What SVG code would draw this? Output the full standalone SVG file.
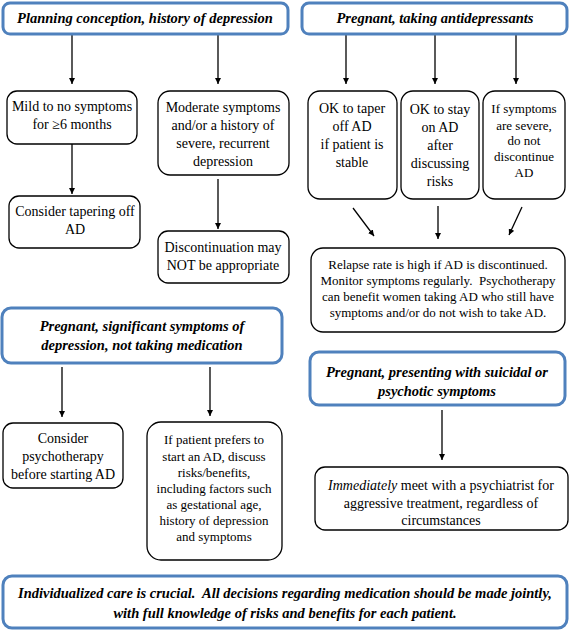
<svg xmlns="http://www.w3.org/2000/svg" width="570" height="632" viewBox="0 0 570 632">
<style>
.hdr{fill:#fff;stroke:#4f81bd;stroke-width:3}
.box{fill:#fff;stroke:#000;stroke-width:1.3}
text{font-family:'Liberation Serif','Times New Roman','DejaVu Serif',serif;text-anchor:middle;fill:#000}
.ht{font-weight:bold;font-style:italic;font-size:14.5px}
.t{font-size:14px}
.s{font-size:13px}
.c line{stroke:#000;stroke-width:1.3;marker-end:url(#ah)}
</style>
<defs>
<marker id="ah" viewBox="0 0 10 10" refX="10" refY="5" markerWidth="6" markerHeight="6" orient="auto" markerUnits="userSpaceOnUse">
<path d="M0,0 L10,5 L0,10 z" fill="#000"/>
</marker>
</defs>
<rect width="570" height="632" fill="#fff"/>
<g id="connectors" class="c">
<line x1="72" y1="35" x2="72" y2="84"/>
<line x1="218" y1="35" x2="218" y2="84"/>
<line x1="346" y1="35" x2="346" y2="84"/>
<line x1="435" y1="35" x2="435" y2="84"/>
<line x1="516" y1="35" x2="516" y2="84"/>
<line x1="72" y1="144" x2="72" y2="194"/>
<line x1="218" y1="179" x2="218" y2="229"/>
<line x1="353" y1="208" x2="374" y2="236"/>
<line x1="438" y1="206" x2="438" y2="239"/>
<line x1="522" y1="207" x2="509" y2="235"/>
<line x1="62" y1="367" x2="62" y2="417"/>
<line x1="210" y1="367" x2="210" y2="416"/>
<line x1="442" y1="410" x2="442" y2="460"/>
</g>
<g id="h1"><rect class="hdr" x="3" y="3" width="285" height="31" rx="7"/><text class="ht" x="145" y="23">Planning conception, history of depression</text></g>
<g id="h2"><rect class="hdr" x="302" y="3" width="265" height="31" rx="7"/><text class="ht" x="435" y="23">Pregnant, taking antidepressants</text></g>
<g id="n1"><rect class="box" x="7" y="91" width="130" height="53" rx="10"/><text class="t" x="72" y="111">Mild to no symptoms</text><text class="t" x="72" y="129">for ≥6 months</text></g>
<g id="n2"><rect class="box" x="158" y="91" width="131" height="84" rx="12"/><text class="t" x="223" y="112">Moderate symptoms</text><text class="t" x="223" y="130">and/or a history of</text><text class="t" x="223" y="148">severe, recurrent</text><text class="t" x="223" y="166">depression</text></g>
<g id="n3"><rect class="box" x="9" y="196" width="131" height="52" rx="10"/><text class="t" x="75" y="216">Consider tapering off</text><text class="t" x="75" y="234">AD</text></g>
<g id="n4"><rect class="box" x="158" y="231" width="131" height="52" rx="10"/><text class="t" x="223" y="252">Discontinuation may</text><text class="t" x="223" y="270">NOT be appropriate</text></g>
<g id="n5"><rect class="box" x="308" y="91" width="89" height="108" rx="12"/><text class="t" x="352" y="113">OK to taper</text><text class="t" x="352" y="131">off AD</text><text class="t" x="352" y="149">if patient is</text><text class="t" x="352" y="167">stable</text></g>
<g id="n6"><rect class="box" x="401" y="91" width="78" height="108" rx="12"/><text class="t" x="440" y="114">OK to stay</text><text class="t" x="440" y="132">on AD</text><text class="t" x="440" y="150">after</text><text class="t" x="440" y="168">discussing</text><text class="t" x="440" y="186">risks</text></g>
<g id="n7"><rect class="box" x="483" y="91" width="82" height="108" rx="12"/><text class="s" x="524" y="113">If symptoms</text><text class="s" x="524" y="130">are severe,</text><text class="s" x="524" y="145">do not</text><text class="s" x="524" y="161">discontinue</text><text class="s" x="524" y="177">AD</text></g>
<g id="n8"><rect class="box" x="311" y="248" width="254" height="84" rx="12"/><text class="s" x="438" y="269">Relapse rate is high if AD is discontinued.</text><text class="s" x="438" y="285" xml:space="preserve">Monitor symptoms regularly.  Psychotherapy</text><text class="s" x="438" y="301">can benefit women taking AD who still have</text><text class="s" x="438" y="317">symptoms and/or do not wish to take AD.</text></g>
<g id="h3"><rect class="hdr" x="2" y="308" width="280" height="55" rx="9"/><text class="ht" x="142" y="331">Pregnant, significant symptoms of</text><text class="ht" x="142" y="350">depression, not taking medication</text></g>
<g id="h4"><rect class="hdr" x="310" y="352" width="255" height="53" rx="9"/><text class="ht" x="437" y="377">Pregnant, presenting with suicidal or</text><text class="ht" x="437" y="396">psychotic symptoms</text></g>
<g id="n9"><rect class="box" x="3" y="423" width="120" height="65" rx="10"/><text class="t" x="63" y="443">Consider</text><text class="t" x="63" y="461">psychotherapy</text><text class="t" x="63" y="479">before starting AD</text></g>
<g id="n10"><rect class="box" x="147" y="422" width="135" height="138" rx="14"/><text class="s" x="214" y="444">If patient prefers to</text><text class="s" x="214" y="461">start an AD, discuss</text><text class="s" x="214" y="477">risks/benefits,</text><text class="s" x="214" y="493">including factors such</text><text class="s" x="214" y="509">as gestational age,</text><text class="s" x="214" y="525">history of depression</text><text class="s" x="214" y="541">and symptoms</text></g>
<g id="n11"><rect class="box" x="315" y="467" width="253" height="63" rx="10"/><text class="t" x="441" y="490"><tspan font-style="italic">Immediately</tspan> meet with a psychiatrist for</text><text class="t" x="441" y="508">aggressive treatment, regardless of</text><text class="t" x="441" y="525">circumstances</text></g>
<g id="h5"><rect class="hdr" x="3" y="576" width="564" height="52" rx="9"/><text class="ht" x="285" y="598" xml:space="preserve">Individualized care is crucial.  All decisions regarding medication should be made jointly,</text><text class="ht" x="285" y="618">with full knowledge of risks and benefits for each patient.</text></g>
</svg>
